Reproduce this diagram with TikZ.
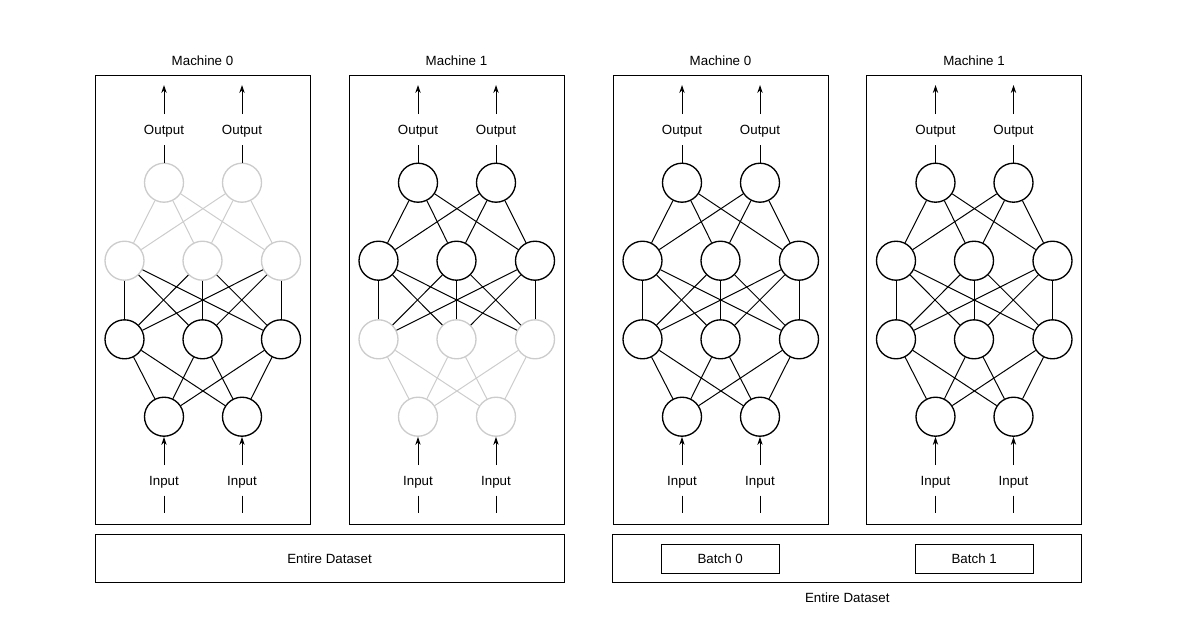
\documentclass[tikz,border=0pt]{standalone}
\usepackage{fontspec}
\setmainfont{Liberation Sans}
\usetikzlibrary{arrows.meta}
\definecolor{lg}{HTML}{CCCCCC}
\tikzset{
  neuron/.style={circle,draw,line width=1pt,minimum size=29.25pt,inner sep=0pt},
  edge/.style={line width=0.75pt},
  box/.style={draw,line width=0.75pt},
  lbl/.style={font=\fontsize{10}{12}\selectfont,inner sep=0pt,text height=7.2pt,text depth=0pt},
  io/.style={font=\fontsize{10}{12}\selectfont,inner sep=0pt,text height=7.2pt,text depth=0pt,minimum height=22.5pt},
  arr/.style={line width=0.75pt,-{Stealth[length=6pt,width=4pt]}},
}
\newcommand\drawpanel[5]{%
  \draw[box] (#2,75) rectangle (#2+215,524);
  \node[lbl] (#1M) at (#2+107.5,61) {#5};
  \foreach \i/\dx in {1/69,2/147} {
    \node[neuron,draw=#3] (#1T\i) at (#2+\dx,182.7) {};
    \node[neuron,draw=#4] (#1C\i) at (#2+\dx,416.7) {};
    \node[io] (#1O\i) at (#2+\dx,129.3) {Output};
    \node[io] (#1I\i) at (#2+\dx,480.3) {Input};
    \coordinate (#1to\i) at (#2+\dx,85);
    \coordinate (#1bi\i) at (#2+\dx,513);
    \draw[edge] (#1T\i) -- (#1O\i.south);
    \draw[arr] (#1O\i.north) -- (#1to\i);
    \draw[arr] (#1I\i.north) -- (#1C\i);
    \draw[edge] (#1I\i.south) -- (#1bi\i);
  }
  \foreach \j/\dx in {1/29.5,2/107.5,3/186} {
    \node[neuron,draw=#3] (#1A\j) at (#2+\dx,260.7) {};
    \node[neuron,draw=#4] (#1B\j) at (#2+\dx,339.3) {};
  }
  \foreach \i in {1,2} {
    \foreach \j in {1,2,3} {
      \draw[edge,draw=#3] (#1T\i) -- (#1A\j);
      \draw[edge,draw=#4] (#1B\j) -- (#1C\i);
    }
  }
  \foreach \i in {1,2,3} {
    \foreach \j in {1,2,3} {
      \draw[edge] (#1A\i) -- (#1B\j);
    }
  }
}
\begin{document}
\begin{tikzpicture}[x=0.75pt,y=-0.75pt]
  \useasboundingbox (0,0) rectangle (1200,637);
  \drawpanel{p}{95}{lg}{black}{Machine 0}
  \drawpanel{q}{349}{black}{lg}{Machine 1}
  \drawpanel{r}{613}{black}{black}{Machine 0}
  \drawpanel{s}{866.5}{black}{black}{Machine 1}
  % datasets
  \draw[box] (95,534) rectangle (564,582.5);
  \node[lbl] (ds1) at (329.5,558.3) {Entire Dataset};
  \draw[box] (612.5,534.3) rectangle (1081.5,582.7);
  \node[box,lbl,minimum width=88.5pt,minimum height=22pt] (b0) at (720.2,558.7) {Batch 0};
  \node[box,lbl,minimum width=88.5pt,minimum height=22pt] (b1) at (974.2,558.7) {Batch 1};
  \node[lbl] (ds2) at (847.3,597.3) {Entire Dataset};
\end{tikzpicture}
\end{document}
